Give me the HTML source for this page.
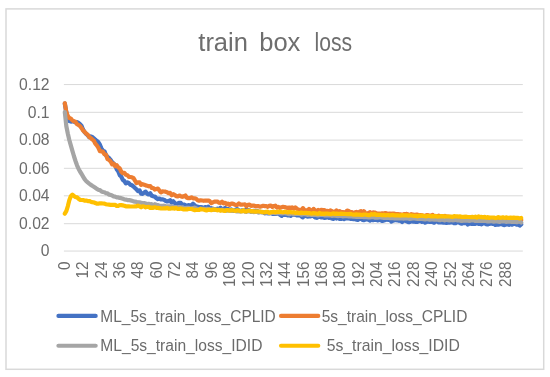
<!DOCTYPE html>
<html><head><meta charset="utf-8"><title>train box loss</title>
<style>
html,body{margin:0;padding:0;background:#fff;}
body{width:550px;height:377px;overflow:hidden;}
svg{display:block;}
text{font-family:"Liberation Sans",sans-serif;fill:#6b6b6b;}
.ax text{font-size:16px;}
.lg text{font-size:16px;}
.grid line{stroke:#d9d9d9;stroke-width:1;}
.series polyline{fill:none;stroke-width:4.2;stroke-linecap:round;stroke-linejoin:round;}
.lg line{stroke-width:4.1;stroke-linecap:round;}
</style></head><body>
<svg width="550" height="377" viewBox="0 0 550 377">
<rect x="0" y="0" width="550" height="377" fill="#fff"/>
<rect x="6" y="8.9" width="537.7" height="360.4" fill="#fff" stroke="#d9d9d9" stroke-width="1.5"/>
<text y="50.6" font-size="26.6" style="fill:#6e6e6e"><tspan x="198.3" textLength="49.6" lengthAdjust="spacingAndGlyphs">train</tspan> <tspan x="259.2" textLength="41.2" lengthAdjust="spacingAndGlyphs">box</tspan> <tspan x="314.6" textLength="37.6" lengthAdjust="spacingAndGlyphs">loss</tspan></text>
<g class="grid">
<line x1="63.9" y1="84.57" x2="522.8" y2="84.57"/>
<line x1="63.9" y1="112.30" x2="522.8" y2="112.30"/>
<line x1="63.9" y1="140.10" x2="522.8" y2="140.10"/>
<line x1="63.9" y1="168.30" x2="522.8" y2="168.30"/>
<line x1="63.9" y1="195.80" x2="522.8" y2="195.80"/>
<line x1="63.9" y1="223.70" x2="522.8" y2="223.70"/>
<line x1="63.9" y1="251.06" x2="522.8" y2="251.06"/>
</g>
<g class="ax">
<text transform="translate(49.6,89.9) scale(0.94,1)" text-anchor="end" style="font-size:16.7px">0.12</text>
<text transform="translate(49.6,117.6) scale(0.94,1)" text-anchor="end" style="font-size:16.7px">0.1</text>
<text transform="translate(49.6,145.4) scale(0.94,1)" text-anchor="end" style="font-size:16.7px">0.08</text>
<text transform="translate(49.6,173.7) scale(0.94,1)" text-anchor="end" style="font-size:16.7px">0.06</text>
<text transform="translate(49.6,201.2) scale(0.94,1)" text-anchor="end" style="font-size:16.7px">0.04</text>
<text transform="translate(49.6,229.0) scale(0.94,1)" text-anchor="end" style="font-size:16.7px">0.02</text>
<text transform="translate(49.6,256.4) scale(0.94,1)" text-anchor="end" style="font-size:16.7px">0</text>
<text transform="translate(69.7,261.5) rotate(-90) scale(0.955,1)" text-anchor="end">0</text>
<text transform="translate(88.1,261.5) rotate(-90) scale(0.955,1)" text-anchor="end">12</text>
<text transform="translate(106.5,261.5) rotate(-90) scale(0.955,1)" text-anchor="end">24</text>
<text transform="translate(124.8,261.5) rotate(-90) scale(0.955,1)" text-anchor="end">36</text>
<text transform="translate(143.2,261.5) rotate(-90) scale(0.955,1)" text-anchor="end">48</text>
<text transform="translate(161.6,261.5) rotate(-90) scale(0.955,1)" text-anchor="end">60</text>
<text transform="translate(180.0,261.5) rotate(-90) scale(0.955,1)" text-anchor="end">72</text>
<text transform="translate(198.3,261.5) rotate(-90) scale(0.955,1)" text-anchor="end">84</text>
<text transform="translate(216.7,261.5) rotate(-90) scale(0.955,1)" text-anchor="end">96</text>
<text transform="translate(235.1,261.5) rotate(-90) scale(0.955,1)" text-anchor="end">108</text>
<text transform="translate(253.5,261.5) rotate(-90) scale(0.955,1)" text-anchor="end">120</text>
<text transform="translate(271.8,261.5) rotate(-90) scale(0.955,1)" text-anchor="end">132</text>
<text transform="translate(290.2,261.5) rotate(-90) scale(0.955,1)" text-anchor="end">144</text>
<text transform="translate(308.6,261.5) rotate(-90) scale(0.955,1)" text-anchor="end">156</text>
<text transform="translate(327.0,261.5) rotate(-90) scale(0.955,1)" text-anchor="end">168</text>
<text transform="translate(345.3,261.5) rotate(-90) scale(0.955,1)" text-anchor="end">180</text>
<text transform="translate(363.7,261.5) rotate(-90) scale(0.955,1)" text-anchor="end">192</text>
<text transform="translate(382.1,261.5) rotate(-90) scale(0.955,1)" text-anchor="end">204</text>
<text transform="translate(400.4,261.5) rotate(-90) scale(0.955,1)" text-anchor="end">216</text>
<text transform="translate(418.8,261.5) rotate(-90) scale(0.955,1)" text-anchor="end">228</text>
<text transform="translate(437.2,261.5) rotate(-90) scale(0.955,1)" text-anchor="end">240</text>
<text transform="translate(455.6,261.5) rotate(-90) scale(0.955,1)" text-anchor="end">252</text>
<text transform="translate(473.9,261.5) rotate(-90) scale(0.955,1)" text-anchor="end">264</text>
<text transform="translate(492.3,261.5) rotate(-90) scale(0.955,1)" text-anchor="end">276</text>
<text transform="translate(510.7,261.5) rotate(-90) scale(0.955,1)" text-anchor="end">288</text>
</g>
<g class="series">
<polyline stroke="#4472c4" points="64.8,103.6 66.3,112.4 67.8,118.0 69.3,121.1 70.9,121.6 72.4,121.3 73.9,121.6 75.5,122.4 77.0,122.1 78.5,122.9 80.0,124.1 81.6,125.9 83.1,129.7 84.6,132.1 86.1,133.7 87.7,135.3 89.2,137.2 90.7,136.4 92.2,137.0 93.8,138.3 95.3,139.8 96.8,140.9 98.3,142.2 99.9,144.7 101.4,148.3 102.9,150.6 104.5,151.3 106.0,155.2 107.5,156.8 109.0,158.0 110.6,159.9 112.1,162.2 113.6,163.5 115.1,165.1 116.7,169.2 118.2,171.3 119.7,175.1 121.2,176.5 122.8,179.8 124.3,181.0 125.8,183.4 127.4,182.3 128.9,183.1 130.4,184.7 131.9,185.3 133.5,186.5 135.0,188.0 136.5,189.3 138.0,191.1 139.6,190.4 141.1,193.7 142.6,193.8 144.2,192.6 145.7,191.6 147.2,193.8 148.7,194.5 150.3,193.3 151.8,195.8 153.3,196.3 154.8,196.5 156.4,198.2 157.9,199.1 159.4,198.5 160.9,199.5 162.5,199.4 164.0,199.7 165.5,200.8 167.1,201.5 168.6,201.1 170.1,200.2 171.6,202.6 173.2,201.3 174.7,202.9 176.2,204.4 177.7,203.4 179.3,202.8 180.8,202.9 182.3,205.1 183.8,204.5 185.4,205.2 186.9,205.7 188.4,205.2 189.9,205.3 191.5,205.1 193.0,203.7 194.5,205.1 196.1,206.5 197.6,206.6 199.1,207.2 200.6,207.0 202.2,207.4 203.7,208.1 205.2,207.0 206.7,207.6 208.3,206.7 209.8,208.8 211.3,208.2 212.8,208.7 214.4,209.6 215.9,209.3 217.4,208.6 219.0,209.3 220.5,207.8 222.0,209.3 223.5,209.2 225.1,208.0 226.6,210.3 228.1,208.9 229.6,210.1 231.2,209.4 232.7,210.6 234.2,211.0 235.8,209.5 237.3,209.1 238.8,210.3 240.3,211.1 241.9,210.4 243.4,210.3 244.9,211.3 246.4,209.0 248.0,210.7 249.5,210.3 251.0,211.7 252.5,211.1 254.1,210.9 255.6,211.6 257.1,210.9 258.6,212.2 260.2,211.8 261.7,212.2 263.2,212.1 264.8,213.4 266.3,212.8 267.8,213.4 269.3,213.5 270.9,212.7 272.4,213.9 273.9,213.8 275.4,214.0 277.0,213.6 278.5,213.7 280.0,214.7 281.6,215.9 283.1,213.8 284.6,215.0 286.1,214.4 287.7,215.4 289.2,215.3 290.7,215.9 292.2,213.1 293.8,214.8 295.3,214.7 296.8,215.5 298.3,215.1 299.9,215.3 301.4,216.4 302.9,217.4 304.4,214.0 306.0,216.0 307.5,216.6 309.0,216.5 310.6,216.3 312.1,215.6 313.6,216.1 315.1,217.4 316.7,217.8 318.2,217.1 319.7,216.5 321.2,217.3 322.8,217.2 324.3,217.9 325.8,217.6 327.4,217.2 328.9,217.9 330.4,216.9 331.9,218.5 333.5,218.9 335.0,217.2 336.5,218.5 338.0,217.5 339.6,218.9 341.1,218.9 342.6,218.4 344.1,219.1 345.7,218.4 347.2,218.4 348.7,218.5 350.2,218.8 351.8,218.8 353.3,219.1 354.8,218.8 356.4,219.6 357.9,219.8 359.4,219.0 360.9,218.6 362.5,219.9 364.0,220.2 365.5,219.5 367.0,219.0 368.6,219.9 370.1,220.6 371.6,218.8 373.1,220.2 374.7,219.8 376.2,219.6 377.7,220.4 379.3,219.5 380.8,220.4 382.3,221.0 383.8,220.5 385.4,220.0 386.9,219.5 388.4,219.9 389.9,219.6 391.5,221.6 393.0,220.6 394.5,220.2 396.1,220.1 397.6,220.3 399.1,220.8 400.6,220.3 402.2,222.0 403.7,220.7 405.2,220.7 406.7,221.4 408.3,222.1 409.8,222.1 411.3,221.1 412.8,221.6 414.4,221.6 415.9,221.8 417.4,221.8 418.9,221.1 420.5,221.0 422.0,221.9 423.5,221.2 425.1,222.6 426.6,222.0 428.1,221.4 429.6,221.9 431.2,221.8 432.7,222.1 434.2,222.7 435.7,221.4 437.3,221.3 438.8,222.5 440.3,222.3 441.9,222.5 443.4,222.7 444.9,222.4 446.4,223.0 448.0,222.2 449.5,222.7 451.0,222.3 452.5,222.2 454.1,223.2 455.6,223.2 457.1,221.9 458.6,222.4 460.2,223.2 461.7,223.7 463.2,222.7 464.8,223.1 466.3,222.4 467.8,224.6 469.3,223.5 470.9,223.8 472.4,223.7 473.9,223.9 475.4,223.8 477.0,223.3 478.5,223.9 480.0,223.6 481.5,224.3 483.1,223.2 484.6,223.4 486.1,224.1 487.6,224.5 489.2,223.9 490.7,223.4 492.2,223.8 493.8,223.6 495.3,225.0 496.8,224.5 498.3,224.7 499.9,224.2 501.4,223.8 502.9,224.8 504.4,225.1 506.0,224.5 507.5,224.2 509.0,224.8 510.6,224.1 512.1,224.7 513.6,223.9 515.1,223.8 516.7,224.7 518.2,224.6 519.7,225.5 521.2,224.3"/>
<polyline stroke="#ed7d31" points="64.8,103.2 66.3,112.0 67.8,116.0 69.3,118.0 70.9,118.7 72.4,120.5 73.9,121.3 75.5,121.8 77.0,124.2 78.5,125.0 80.0,126.1 81.6,128.2 83.1,130.5 84.6,131.9 86.1,133.6 87.7,134.7 89.2,137.0 90.7,138.0 92.2,139.4 93.8,140.6 95.3,143.7 96.8,145.4 98.3,147.6 99.9,151.2 101.4,151.3 102.9,151.8 104.5,154.3 106.0,154.7 107.5,159.1 109.0,159.8 110.6,161.4 112.1,164.4 113.6,163.6 115.1,166.2 116.7,165.2 118.2,167.4 119.7,168.3 121.2,171.7 122.8,173.1 124.3,172.8 125.8,174.8 127.4,175.2 128.9,176.9 130.4,177.0 131.9,177.3 133.5,178.2 135.0,180.7 136.5,183.0 138.0,182.3 139.6,182.4 141.1,184.9 142.6,184.2 144.2,184.7 145.7,185.4 147.2,185.8 148.7,186.3 150.3,186.0 151.8,188.0 153.3,188.0 154.8,189.6 156.4,189.1 157.9,188.6 159.4,190.6 160.9,192.4 162.5,191.4 164.0,191.5 165.5,191.7 167.1,192.2 168.6,193.2 170.1,192.9 171.6,195.2 173.2,194.2 174.7,194.9 176.2,196.2 177.7,196.5 179.3,195.5 180.8,196.2 182.3,196.8 183.8,196.4 185.4,195.5 186.9,197.7 188.4,198.2 189.9,198.1 191.5,197.4 193.0,198.3 194.5,198.3 196.1,198.8 197.6,200.2 199.1,200.7 200.6,200.3 202.2,200.5 203.7,200.8 205.2,200.5 206.7,200.7 208.3,200.5 209.8,201.2 211.3,203.1 212.8,202.3 214.4,201.6 215.9,201.7 217.4,201.6 219.0,202.7 220.5,202.9 222.0,201.8 223.5,203.4 225.1,202.8 226.6,204.4 228.1,203.6 229.6,205.0 231.2,203.5 232.7,203.7 234.2,204.3 235.8,205.0 237.3,204.8 238.8,203.5 240.3,204.7 241.9,204.7 243.4,204.5 244.9,204.4 246.4,206.3 248.0,204.8 249.5,204.6 251.0,205.8 252.5,205.6 254.1,205.5 255.6,206.3 257.1,206.2 258.6,206.2 260.2,206.7 261.7,206.3 263.2,205.8 264.8,206.1 266.3,206.1 267.8,206.8 269.3,205.9 270.9,205.5 272.4,207.0 273.9,206.1 275.4,205.7 277.0,207.6 278.5,206.9 280.0,207.9 281.6,207.3 283.1,206.9 284.6,207.0 286.1,207.6 287.7,207.9 289.2,207.6 290.7,208.1 292.2,207.3 293.8,208.6 295.3,207.4 296.8,208.7 298.3,209.5 299.9,209.9 301.4,210.4 302.9,208.1 304.4,210.0 306.0,210.4 307.5,210.4 309.0,209.0 310.6,210.2 312.1,211.3 313.6,208.9 315.1,210.5 316.7,211.1 318.2,209.9 319.7,210.9 321.2,209.8 322.8,210.1 324.3,210.1 325.8,211.0 327.4,210.9 328.9,211.7 330.4,210.4 331.9,211.1 333.5,212.0 335.0,211.8 336.5,210.4 338.0,212.0 339.6,211.2 341.1,212.0 342.6,212.0 344.1,212.7 345.7,212.0 347.2,210.6 348.7,211.0 350.2,212.7 351.8,212.0 353.3,213.1 354.8,212.5 356.4,211.8 357.9,213.3 359.4,211.9 360.9,211.1 362.5,214.2 364.0,211.3 365.5,213.3 367.0,213.6 368.6,213.0 370.1,212.2 371.6,213.6 373.1,212.4 374.7,212.5 376.2,213.1 377.7,213.7 379.3,213.5 380.8,213.8 382.3,213.3 383.8,213.5 385.4,213.0 386.9,213.5 388.4,214.0 389.9,213.6 391.5,214.1 393.0,213.6 394.5,213.7 396.1,214.0 397.6,214.0 399.1,214.4 400.6,214.3 402.2,215.1 403.7,214.2 405.2,214.2 406.7,213.9 408.3,214.5 409.8,214.9 411.3,214.2 412.8,214.6 414.4,215.1 415.9,214.7 417.4,214.6 418.9,215.4 420.5,215.1 422.0,215.3 423.5,215.8 425.1,215.8 426.6,215.2 428.1,215.2 429.6,215.7 431.2,215.6 432.7,214.8 434.2,216.5 435.7,216.0 437.3,216.4 438.8,215.6 440.3,216.9 441.9,216.1 443.4,216.4 444.9,215.9 446.4,216.6 448.0,216.7 449.5,216.8 451.0,217.3 452.5,217.2 454.1,217.7 455.6,217.1 457.1,217.0 458.6,217.5 460.2,218.0 461.7,218.4 463.2,218.2 464.8,217.0 466.3,218.2 467.8,218.8 469.3,218.2 470.9,218.0 472.4,218.5 473.9,218.1 475.4,218.8 477.0,218.5 478.5,219.3 480.0,218.9 481.5,218.4 483.1,219.1 484.6,219.3 486.1,218.7 487.6,218.8 489.2,217.9 490.7,219.6 492.2,218.9 493.8,218.2 495.3,218.4 496.8,219.3 498.3,219.8 499.9,219.5 501.4,219.8 502.9,219.1 504.4,219.0 506.0,220.2 507.5,220.0 509.0,219.8 510.6,220.5 512.1,219.4 513.6,219.8 515.1,220.5 516.7,221.0 518.2,220.1 519.7,221.0 521.2,219.9"/>
<polyline stroke="#a5a5a5" points="64.8,112.1 66.3,126.0 67.8,133.5 69.3,140.0 70.9,145.6 72.4,150.8 73.9,156.0 75.5,161.0 77.0,165.3 78.5,168.7 80.0,171.5 81.6,174.0 83.1,176.6 84.6,179.1 86.1,181.0 87.7,182.4 89.2,183.6 90.7,184.7 92.2,185.8 93.8,186.8 95.3,187.8 96.8,188.9 98.3,189.8 99.9,190.0 101.4,191.3 102.9,192.0 104.5,192.3 106.0,193.2 107.5,193.4 109.0,194.7 110.6,194.9 112.1,195.5 113.6,196.4 115.1,196.6 116.7,197.3 118.2,197.4 119.7,197.9 121.2,198.1 122.8,198.7 124.3,199.4 125.8,199.6 127.4,200.1 128.9,200.0 130.4,200.4 131.9,200.8 133.5,201.4 135.0,201.7 136.5,201.9 138.0,202.4 139.6,202.4 141.1,202.7 142.6,203.3 144.2,203.1 145.7,203.5 147.2,204.1 148.7,203.9 150.3,204.3 151.8,204.2 153.3,205.1 154.8,204.2 156.4,204.7 157.9,205.0 159.4,205.9 160.9,205.8 162.5,205.8 164.0,205.7 165.5,206.3 167.1,206.4 168.6,206.4 170.1,206.3 171.6,206.6 173.2,207.0 174.7,207.2 176.2,207.2 177.7,207.3 179.3,207.0 180.8,207.6 182.3,207.4 183.8,207.8 185.4,208.0 186.9,207.8 188.4,207.8 189.9,208.4 191.5,208.4 193.0,208.2 194.5,207.7 196.1,208.5 197.6,208.8 199.1,209.0 200.6,208.7 202.2,208.8 203.7,208.9 205.2,209.3 206.7,208.9 208.3,209.3 209.8,209.2 211.3,209.5 212.8,209.2 214.4,209.7 215.9,209.6 217.4,209.8 219.0,210.0 220.5,210.3 222.0,209.6 223.5,210.4 225.1,210.4 226.6,210.2 228.1,210.7 229.6,210.5 231.2,210.9 232.7,210.5 234.2,210.5 235.8,211.1 237.3,211.5 238.8,211.2 240.3,211.3 241.9,211.1 243.4,210.9 244.9,211.3 246.4,211.8 248.0,211.1 249.5,211.5 251.0,211.2 252.5,211.8 254.1,212.1 255.6,211.6 257.1,211.9 258.6,212.5 260.2,212.2 261.7,212.0 263.2,212.1 264.8,212.0 266.3,212.7 267.8,212.4 269.3,213.0 270.9,213.0 272.4,212.7 273.9,212.8 275.4,213.2 277.0,213.1 278.5,213.2 280.0,212.8 281.6,213.5 283.1,213.2 284.6,212.9 286.1,213.4 287.7,213.7 289.2,214.2 290.7,213.7 292.2,213.5 293.8,214.4 295.3,214.0 296.8,214.0 298.3,213.8 299.9,213.9 301.4,214.6 302.9,214.2 304.4,214.2 306.0,214.3 307.5,214.9 309.0,214.4 310.6,214.8 312.1,214.8 313.6,214.9 315.1,214.6 316.7,215.1 318.2,215.4 319.7,215.0 321.2,214.9 322.8,214.9 324.3,215.3 325.8,215.3 327.4,215.4 328.9,215.5 330.4,215.2 331.9,215.8 333.5,215.7 335.0,215.7 336.5,215.9 338.0,216.1 339.6,216.0 341.1,215.8 342.6,216.4 344.1,216.1 345.7,216.1 347.2,215.9 348.7,216.4 350.2,216.2 351.8,216.4 353.3,216.7 354.8,216.7 356.4,217.0 357.9,216.9 359.4,216.8 360.9,216.8 362.5,216.9 364.0,217.2 365.5,217.1 367.0,217.1 368.6,217.5 370.1,217.3 371.6,217.2 373.1,217.0 374.7,217.6 376.2,217.6 377.7,217.6 379.3,217.5 380.8,217.5 382.3,217.7 383.8,217.9 385.4,217.8 386.9,217.9 388.4,217.8 389.9,218.1 391.5,218.1 393.0,217.9 394.5,218.4 396.1,218.4 397.6,218.5 399.1,218.3 400.6,218.3 402.2,218.1 403.7,218.7 405.2,218.0 406.7,218.5 408.3,218.5 409.8,218.9 411.3,218.7 412.8,218.5 414.4,218.5 415.9,218.7 417.4,218.9 418.9,219.0 420.5,219.0 422.0,218.9 423.5,219.1 425.1,219.4 426.6,219.0 428.1,219.3 429.6,219.7 431.2,219.5 432.7,219.3 434.2,219.7 435.7,219.4 437.3,219.6 438.8,220.1 440.3,220.2 441.9,219.3 443.4,220.0 444.9,220.4 446.4,219.8 448.0,220.1 449.5,220.4 451.0,220.0 452.5,220.3 454.1,220.2 455.6,219.8 457.1,220.4 458.6,220.3 460.2,220.6 461.7,221.0 463.2,220.7 464.8,220.5 466.3,220.7 467.8,220.7 469.3,220.9 470.9,220.4 472.4,220.5 473.9,220.3 475.4,221.0 477.0,220.9 478.5,220.8 480.0,220.8 481.5,220.9 483.1,220.8 484.6,221.0 486.1,221.0 487.6,221.5 489.2,221.3 490.7,221.1 492.2,221.2 493.8,221.6 495.3,221.5 496.8,221.5 498.3,221.6 499.9,221.9 501.4,221.2 502.9,221.4 504.4,221.2 506.0,221.8 507.5,221.6 509.0,221.6 510.6,221.6 512.1,222.0 513.6,221.8 515.1,221.7 516.7,222.2 518.2,221.7 519.7,221.6 521.2,222.6"/>
<polyline stroke="#ffc000" points="64.8,213.7 66.3,211.2 67.8,206.3 69.3,200.2 70.9,196.0 72.4,194.7 73.9,195.9 75.5,197.0 77.0,197.4 78.5,198.7 80.0,199.8 81.6,200.0 83.1,200.0 84.6,200.7 86.1,200.6 87.7,201.1 89.2,201.0 90.7,201.7 92.2,202.1 93.8,202.3 95.3,203.0 96.8,203.7 98.3,203.7 99.9,203.3 101.4,203.3 102.9,203.5 104.5,203.6 106.0,204.2 107.5,204.5 109.0,204.6 110.6,204.8 112.1,204.9 113.6,204.9 115.1,204.8 116.7,205.9 118.2,205.8 119.7,205.1 121.2,205.2 122.8,205.4 124.3,205.7 125.8,206.3 127.4,206.3 128.9,206.4 130.4,206.5 131.9,206.5 133.5,206.5 135.0,206.4 136.5,206.3 138.0,205.7 139.6,206.4 141.1,207.3 142.6,206.4 144.2,206.5 145.7,207.3 147.2,207.0 148.7,206.9 150.3,207.9 151.8,207.6 153.3,207.8 154.8,207.3 156.4,207.9 157.9,207.9 159.4,208.2 160.9,208.4 162.5,208.5 164.0,208.2 165.5,208.5 167.1,207.8 168.6,208.6 170.1,208.7 171.6,208.3 173.2,208.2 174.7,208.6 176.2,208.1 177.7,208.8 179.3,208.9 180.8,208.4 182.3,208.9 183.8,209.4 185.4,209.4 186.9,209.4 188.4,209.0 189.9,209.0 191.5,209.0 193.0,209.5 194.5,210.2 196.1,209.9 197.6,210.0 199.1,210.0 200.6,208.9 202.2,209.5 203.7,209.5 205.2,210.2 206.7,210.4 208.3,209.5 209.8,209.9 211.3,210.1 212.8,209.7 214.4,209.7 215.9,209.8 217.4,210.4 219.0,209.8 220.5,210.6 222.0,210.3 223.5,210.6 225.1,211.0 226.6,210.1 228.1,210.1 229.6,210.7 231.2,210.1 232.7,210.3 234.2,210.6 235.8,210.8 237.3,210.2 238.8,210.6 240.3,211.1 241.9,211.4 243.4,210.2 244.9,211.5 246.4,211.4 248.0,210.7 249.5,210.6 251.0,211.4 252.5,211.1 254.1,211.4 255.6,211.7 257.1,211.3 258.6,211.5 260.2,211.7 261.7,211.9 263.2,212.3 264.8,212.3 266.3,211.8 267.8,211.7 269.3,212.8 270.9,212.1 272.4,212.1 273.9,211.5 275.4,212.3 277.0,211.8 278.5,211.9 280.0,211.6 281.6,212.0 283.1,212.3 284.6,211.7 286.1,212.0 287.7,212.4 289.2,212.0 290.7,212.1 292.2,212.3 293.8,212.3 295.3,212.9 296.8,212.5 298.3,213.0 299.9,213.1 301.4,212.6 302.9,213.0 304.4,212.9 306.0,212.8 307.5,213.1 309.0,213.1 310.6,213.4 312.1,213.6 313.6,213.1 315.1,213.3 316.7,213.6 318.2,213.8 319.7,212.9 321.2,213.9 322.8,213.6 324.3,214.1 325.8,213.6 327.4,213.6 328.9,213.8 330.4,214.1 331.9,213.9 333.5,213.3 335.0,214.1 336.5,213.6 338.0,213.8 339.6,213.8 341.1,213.6 342.6,213.8 344.1,213.9 345.7,214.0 347.2,214.2 348.7,214.2 350.2,213.9 351.8,214.3 353.3,214.6 354.8,214.6 356.4,214.4 357.9,214.6 359.4,214.7 360.9,214.8 362.5,215.0 364.0,214.5 365.5,214.5 367.0,215.0 368.6,215.1 370.1,215.1 371.6,214.1 373.1,214.7 374.7,214.0 376.2,215.0 377.7,214.9 379.3,214.9 380.8,214.9 382.3,215.3 383.8,214.9 385.4,215.3 386.9,215.2 388.4,215.2 389.9,215.3 391.5,215.2 393.0,214.9 394.5,215.4 396.1,215.4 397.6,215.3 399.1,215.5 400.6,215.6 402.2,215.1 403.7,215.4 405.2,215.4 406.7,215.3 408.3,215.6 409.8,215.4 411.3,215.5 412.8,215.7 414.4,215.8 415.9,215.8 417.4,216.3 418.9,215.7 420.5,215.9 422.0,215.5 423.5,216.0 425.1,216.2 426.6,216.3 428.1,215.8 429.6,216.0 431.2,216.4 432.7,216.1 434.2,216.4 435.7,215.9 437.3,216.6 438.8,216.5 440.3,216.4 441.9,216.1 443.4,216.3 444.9,216.4 446.4,216.5 448.0,216.5 449.5,216.5 451.0,216.6 452.5,216.9 454.1,216.1 455.6,216.3 457.1,216.3 458.6,216.6 460.2,216.3 461.7,217.0 463.2,216.9 464.8,216.8 466.3,216.7 467.8,217.0 469.3,217.0 470.9,217.1 472.4,216.9 473.9,217.2 475.4,216.7 477.0,217.5 478.5,216.4 480.0,217.1 481.5,216.9 483.1,217.5 484.6,216.9 486.1,217.8 487.6,217.0 489.2,217.9 490.7,217.5 492.2,217.5 493.8,217.6 495.3,218.1 496.8,217.8 498.3,217.0 499.9,217.9 501.4,217.7 502.9,217.3 504.4,217.9 506.0,217.4 507.5,217.8 509.0,217.8 510.6,217.6 512.1,218.0 513.6,217.6 515.1,217.9 516.7,217.8 518.2,217.9 519.7,218.4 521.2,218.0"/>
</g>
<g class="lg">
<line x1="58.4" y1="315.9" x2="95.7" y2="315.9" stroke="#4472c4"/>
<text transform="translate(100.3,321.5) scale(0.968,1)">ML_5s_train_loss_CPLID</text>
<line x1="281" y1="315.9" x2="318.3" y2="315.9" stroke="#ed7d31"/>
<text transform="translate(321.7,321.5) scale(0.970,1)">5s_train_loss_CPLID</text>
<line x1="58.4" y1="345.8" x2="95.7" y2="345.8" stroke="#a5a5a5"/>
<text transform="translate(100.3,351) scale(0.975,1)">ML_5s_train_loss_IDID</text>
<line x1="281" y1="345.8" x2="318.3" y2="345.8" stroke="#ffc000"/>
<text transform="translate(326.7,351) scale(0.986,1)">5s_train_loss_IDID</text>
</g>
</svg>
</body></html>
